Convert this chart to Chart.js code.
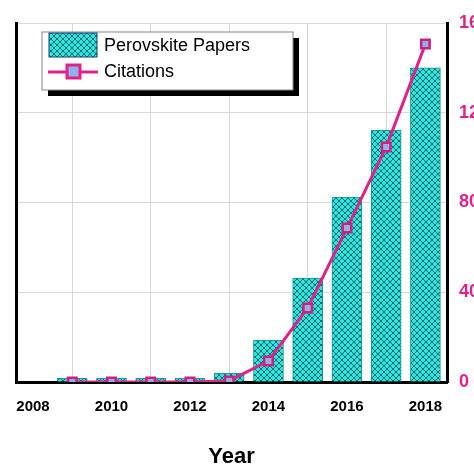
<!DOCTYPE html>
<html><head><meta charset="utf-8">
<script src="https://cdn.jsdelivr.net/npm/chart.js@4"></script>
<style>html,body{margin:0;padding:0;background:#fff;overflow:hidden}#c{display:block}</style>
</head><body>
<div style="width:474px;height:474px"><canvas id="c"></canvas></div>
<script>
const anos = [2009, 2010, 2011, 2012, 2013, 2014, 2015, 2016, 2017, 2018];
const artigos = [18, 18, 18, 18, 40, 187, 463, 824, 1123, 1400];
const citacoes = [0, 0, 0, 0, 50, 940, 3300, 6860, 10470, 15060];
const rotulosAnos = [2008, 2010, 2012, 2014, 2016, 2018];

const ctx = document.getElementById('c').getContext('2d');

// padrão xadrez das barras
function criarPadrao() {
    const p = document.createElement('canvas');
    p.width = 6; p.height = 6;
    const g = p.getContext('2d');
    g.fillStyle = '#2ee6e0';
    g.fillRect(0, 0, 6, 6);
    g.strokeStyle = '#0b6f72';
    g.lineWidth = 1;
    g.beginPath();
    g.moveTo(0, 0); g.lineTo(6, 6);
    g.moveTo(6, 0); g.lineTo(0, 6);
    g.stroke();
    return ctx.createPattern(p, 'repeat');
}
const padrao = criarPadrao();

const legenda = {
    id: 'legenda',
    afterDraw(chart) {
        const c = chart.ctx;
        c.save();
        c.fillStyle = '#000';
        c.fillRect(48, 38, 251, 58);
        c.fillStyle = '#fff';
        c.fillRect(42, 32, 251, 58);
        c.strokeStyle = '#888';
        c.lineWidth = 1;
        c.strokeRect(42, 32, 251, 58);
        c.fillStyle = padrao;
        c.fillRect(49, 33, 48, 24);
        c.strokeStyle = '#1a3a6a';
        c.strokeRect(49, 33, 48, 24);
        c.strokeStyle = '#e0218a';
        c.lineWidth = 3;
        c.beginPath(); c.moveTo(48, 72); c.lineTo(98, 72); c.stroke();
        c.fillStyle = '#8fb0e8';
        c.fillRect(67, 65, 13, 13);
        c.strokeRect(67, 65, 13, 13);
        c.fillStyle = '#000';
        c.font = '18px Arial, "Liberation Sans"';
        c.textBaseline = 'middle';
        c.fillText('Perovskite Papers', 104, 46);
        c.fillText('Citations', 104, 72);
        c.restore();
    }
};

new Chart(ctx, {
    data: {
        datasets: [
            {
                type: 'line',
                label: 'Citations',
                data: anos.map((a, i) => ({ x: a, y: citacoes[i] })),
                yAxisID: 'y2',
                borderColor: '#e0218a',
                borderWidth: 3,
                pointStyle: 'rect',
                pointRadius: 6,
                pointBorderWidth: 2.5,
                pointBackgroundColor: '#8fb0e8',
                pointBorderColor: '#d01f80',
                order: 0
            },
            {
                type: 'bar',
                label: 'Perovskite Papers',
                data: anos.map((a, i) => ({ x: a, y: artigos[i] })),
                yAxisID: 'y',
                backgroundColor: padrao,
                borderColor: '#1f8f90',
                borderWidth: 1,
                barThickness: 30,
                order: 1
            }
        ]
    },
    options: {
        responsive: true,
        maintainAspectRatio: false,
        animation: false,
        layout: { padding: { top: 23, left: 0, right: 0, bottom: 0 } },
        plugins: { legend: { display: false }, tooltip: { enabled: false } },
        scales: {
            x: {
                type: 'linear',
                offset: false,
                min: 2007.57,
                max: 2018.55,
                afterBuildTicks: s => { s.ticks = rotulosAnos.map(v => ({ value: v })); },
                afterFit: s => { s.height = 92; },
                ticks: { color: '#000', font: { size: 15, weight: 'bold', family: 'Arial' }, padding: 16, maxRotation: 0, callback: v => String(v) },
                grid: { color: '#d8d8d8', tickLength: 0 },
                border: { color: '#000', width: 3 },
                title: { display: true, text: 'Year', color: '#000', font: { size: 22, weight: 'bold', family: 'Arial' }, padding: { top: 8 } }
            },
            y: {
                position: 'left',
                min: 0,
                max: 1600,
                afterFit: s => { s.width = 8; },
                ticks: { display: false, stepSize: 400 },
                grid: { color: '#d8d8d8', tickLength: 0 },
                border: { color: '#000', width: 3 }
            },
            y2: {
                position: 'right',
                min: 0,
                max: 16000,
                afterFit: s => { s.width = 27; },
                ticks: { stepSize: 4000, color: '#e0218a', padding: 6, font: { size: 18, weight: 'bold', family: 'Arial' }, callback: v => String(v) },
                grid: { display: false, tickLength: 6 },
                border: { color: '#000', width: 3 }
            }
        }
    },
    plugins: [legenda]
});
</script>
</body></html>
